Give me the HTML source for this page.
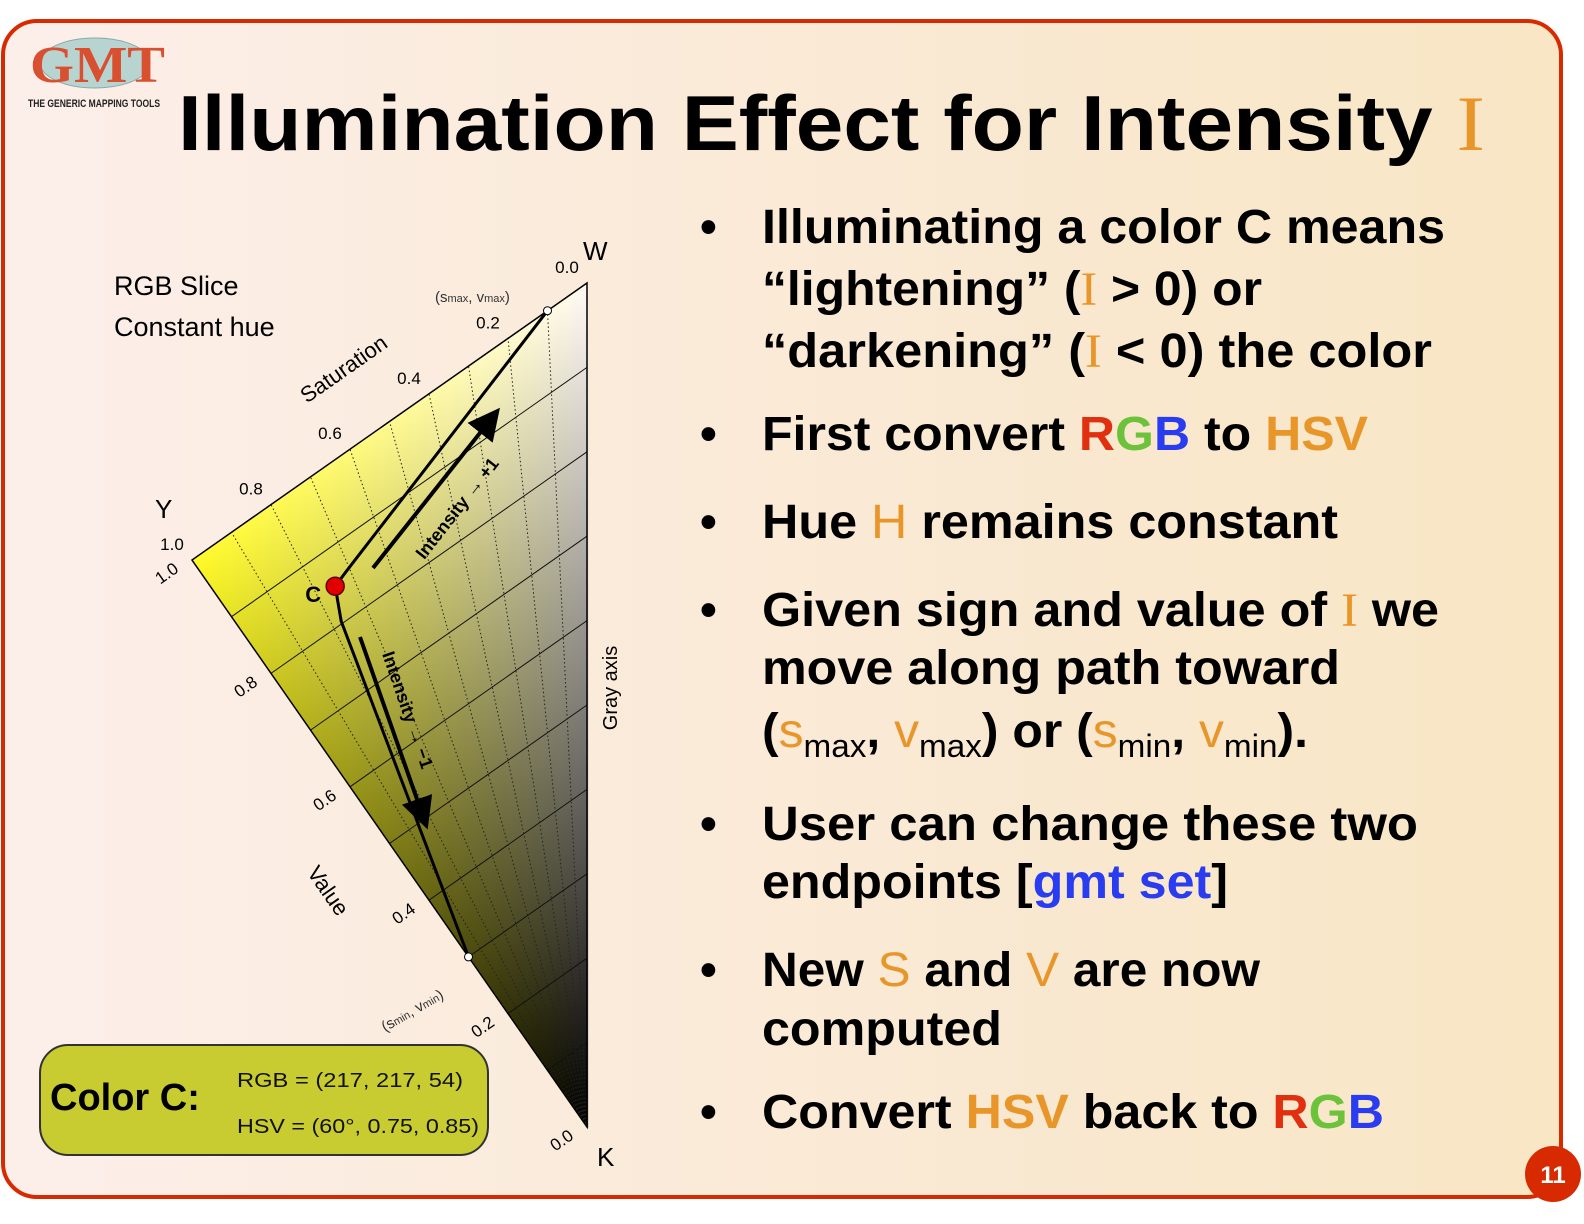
<!DOCTYPE html>
<html><head><meta charset="utf-8">
<style>
html,body{margin:0;padding:0;width:1584px;height:1224px;overflow:hidden;background:#fff;font-family:"Liberation Sans",sans-serif}
#bg{position:absolute;left:0;top:0}
#tri{position:absolute;left:0;top:0}
#ov{position:absolute;left:0;top:0}
.si{font-family:"Liberation Serif",serif;font-weight:normal;fill:#e8962a}
</style></head>
<body>
<svg id="bg" width="1584" height="1224">
<defs><linearGradient id="g" x1="0" y1="0" x2="1" y2="0"><stop offset="0" stop-color="#fcefea"/><stop offset="0.45" stop-color="#faead8"/><stop offset="1" stop-color="#f8e6c4"/></linearGradient></defs>
<rect x="3" y="21" width="1558" height="1176" rx="34" fill="url(#g)" stroke="#d82a00" stroke-width="4"/>
</svg>
<canvas id="tri" width="1584" height="1224"></canvas>
<svg id="ov" width="1584" height="1224" font-family="Liberation Sans, sans-serif">
<g>
<ellipse cx="95" cy="63" rx="55" ry="25" fill="#b8d4d0" stroke="#8aa" stroke-width="1"/>
<text x="30" y="82" font-size="52" font-weight="bold" fill="#d85030" textLength="135" lengthAdjust="spacingAndGlyphs" font-family="Liberation Serif, serif">GMT</text>
<text x="28" y="107" font-size="11" font-weight="bold" fill="#222" textLength="132" lengthAdjust="spacingAndGlyphs">THE GENERIC MAPPING TOOLS</text>
</g>
<text x="178" y="150" font-size="78" font-weight="bold" fill="#000" textLength="1307" lengthAdjust="spacingAndGlyphs">Illumination Effect for Intensity <tspan class="si">I</tspan></text>
<g id="chart"></g>
<g font-size="48" font-weight="bold" fill="#000">
<text x="700" y="243">•</text><text x="762" y="243" textLength="683" lengthAdjust="spacingAndGlyphs">Illuminating a color C means</text>
<text x="762" y="305" textLength="500" lengthAdjust="spacingAndGlyphs">“lightening” (<tspan class="si">I</tspan> &gt; 0) or</text>
<text x="762" y="367" textLength="670" lengthAdjust="spacingAndGlyphs">“darkening” (<tspan class="si">I</tspan> &lt; 0) the color</text>
<text x="700" y="450">•</text><text x="762" y="450" textLength="606" lengthAdjust="spacingAndGlyphs">First convert <tspan fill="#e03010">R</tspan><tspan fill="#6cc23a">G</tspan><tspan fill="#2a3cf0">B</tspan> to <tspan fill="#e8962a">HSV</tspan></text>
<text x="700" y="538">•</text><text x="762" y="538" textLength="576" lengthAdjust="spacingAndGlyphs">Hue <tspan fill="#e8962a" font-weight="normal">H</tspan> remains constant</text>
<text x="700" y="626">•</text><text x="762" y="626" textLength="677" lengthAdjust="spacingAndGlyphs">Given sign and value of <tspan class="si">I</tspan> we</text>
<text x="762" y="684" textLength="578" lengthAdjust="spacingAndGlyphs">move along path toward</text>
<text x="762" y="747" textLength="546" lengthAdjust="spacingAndGlyphs">(<tspan fill="#e8962a" font-weight="normal">s</tspan><tspan font-size="32" font-weight="normal" dy="10">max</tspan><tspan dy="-10">, </tspan><tspan fill="#e8962a" font-weight="normal">v</tspan><tspan font-size="32" font-weight="normal" dy="10">max</tspan><tspan dy="-10">) or (</tspan><tspan fill="#e8962a" font-weight="normal">s</tspan><tspan font-size="32" font-weight="normal" dy="10">min</tspan><tspan dy="-10">, </tspan><tspan fill="#e8962a" font-weight="normal">v</tspan><tspan font-size="32" font-weight="normal" dy="10">min</tspan><tspan dy="-10">).</tspan></text>
<text x="700" y="840">•</text><text x="762" y="840" textLength="656" lengthAdjust="spacingAndGlyphs">User can change these two</text>
<text x="762" y="898" textLength="466" lengthAdjust="spacingAndGlyphs">endpoints [<tspan fill="#2a3cf0">gmt set</tspan>]</text>
<text x="700" y="986">•</text><text x="762" y="986" textLength="498" lengthAdjust="spacingAndGlyphs">New <tspan fill="#e8962a" font-weight="normal">S</tspan> and <tspan fill="#e8962a" font-weight="normal">V</tspan> are now</text>
<text x="762" y="1045" textLength="240" lengthAdjust="spacingAndGlyphs">computed</text>
<text x="700" y="1128">•</text><text x="762" y="1128" textLength="622" lengthAdjust="spacingAndGlyphs">Convert <tspan fill="#e8962a">HSV</tspan> back to <tspan fill="#e03010">R</tspan><tspan fill="#6cc23a">G</tspan><tspan fill="#2a3cf0">B</tspan></text>
</g>
<g>
<rect x="40" y="1045" width="448" height="110" rx="28" fill="#c8cc30" stroke="#333" stroke-width="2"/>
<text x="50" y="1110" font-size="38" font-weight="bold">Color C:</text>
<text x="237" y="1087" font-size="20" fill="#111" textLength="226" lengthAdjust="spacingAndGlyphs">RGB = (217, 217, 54)</text>
<text x="237" y="1133" font-size="20" fill="#111" textLength="242" lengthAdjust="spacingAndGlyphs">HSV = (60°, 0.75, 0.85)</text>
</g>
<g>
<circle cx="1553" cy="1174" r="28" fill="#d82a00"/>
<text x="1553" y="1183" font-size="24" font-weight="bold" fill="#fff" text-anchor="middle">11</text>
</g>
</svg>
<script>
// data
const vertexW=[587,283], vertexY=[192,560], vertexK=[587,1127];
const colorC=[0.75,0.85]; // s,v
const maxPoint=[0.1,1.0]; const minPoint=[1.0,0.3];
const satTicks=[0.0,0.2,0.4,0.6,0.8,1.0];
const valTicks=[1.0,0.8,0.6,0.4,0.2,0.0];
const gridStep=[0.1,0.2,0.3,0.4,0.5,0.6,0.7,0.8,0.9];
function P(s,v){return [vertexK[0]+v*((1-s)*(vertexW[0]-vertexK[0])+s*(vertexY[0]-vertexK[0])),
                        vertexK[1]+v*((1-s)*(vertexW[1]-vertexK[1])+s*(vertexY[1]-vertexK[1]))];}
const cv=document.getElementById('tri'),ctx=cv.getContext('2d');
const img=ctx.createImageData(1584,1224);
const ax=vertexW[0]-vertexK[0],ay=vertexW[1]-vertexK[1],bx=vertexY[0]-vertexW[0],by=vertexY[1]-vertexW[1];
const det=ax*by-ay*bx;
for(let y=280;y<1130;y++)for(let x=188;x<590;x++){
 const dx=x-vertexK[0],dy=y-vertexK[1];
 const a=(dx*by-dy*bx)/det,b=(ax*dy-ay*dx)/det;
 if(a<0||a>1||b<0||b>a)continue;
 const v=a,s=a>0?b/a:0;
 const i=(y*1584+x)*4;
 img.data[i]=Math.round(v*255);img.data[i+1]=Math.round(v*250);img.data[i+2]=Math.round(v*(1-s)*245+v*s*40);img.data[i+3]=255;
}
ctx.putImageData(img,0,0);
const NS='http://www.w3.org/2000/svg',g=document.getElementById('chart');
function mk(t,at,par){const e=document.createElementNS(NS,t);for(const k in at)e.setAttribute(k,at[k]);(par||g).appendChild(e);return e;}
gridStep.forEach(v=>{const a=P(0,v),b=P(1,v);
 const l=mk('line',{x1:a[0],y1:a[1],x2:b[0],y2:b[1],stroke:'#111','stroke-width':1});
 
 });
gridStep.forEach(s=>{const a=P(s,0),b=P(s,1);
 const l=mk('line',{x1:a[0],y1:a[1],x2:b[0],y2:b[1],stroke:'#222','stroke-width':1,'stroke-dasharray':'1.5,2.5'});
 
 });
const t1=P(0,1),t2=P(1,1),t3=P(0,0);
const tr=mk('polygon',{points:[t1,t2,t3].map(p=>p.join(',')).join(' '),fill:'none',stroke:'#000','stroke-width':1.5});


function path(from,to,name,kink){const a=P(from[0],from[1]),b=P(to[0],to[1]);
 let d='M'+a[0]+','+a[1];
 if(kink){d+='L'+(a[0]+kink[0])+','+(a[1]+kink[1]);}
 d+='L'+b[0]+','+b[1];
 const e=mk('path',{d:d,fill:'none',stroke:'#000','stroke-width':3,'stroke-linejoin':'round'});
 
 }
path(colorC,maxPoint,'path-to-max',[12,-16]);path(colorC,minPoint,'path-to-min',[6,35]);
[maxPoint,minPoint].forEach(q=>{const p=P(q[0],q[1]);const c=mk('circle',{cx:p[0],cy:p[1],r:4,fill:'#fff',stroke:'#000'});
 
 });
const pc=P(colorC[0],colorC[1]);
const cc=mk('circle',{cx:pc[0],cy:pc[1],r:9,fill:'#e00000',stroke:'#600','stroke-width':1.5});


const cl=mk('text',{x:pc[0]-30,y:pc[1]+16,'font-size':22,'font-weight':'bold'});cl.textContent='C';


satTicks.forEach(s=>{const p=P(s,1);const e=mk('text',{x:p[0]-20,y:p[1]-10,'font-size':17,'text-anchor':'middle'});e.textContent=s.toFixed(1);
 
 });
valTicks.forEach(v=>{const p=P(1,v);const x=p[0]-22,y=p[1]+18;const e=mk('text',{x:x,y:y,'font-size':17,'text-anchor':'middle',transform:`rotate(-35 ${x} ${y})`});e.textContent=v.toFixed(1);
 
 });
mk('defs',{}).innerHTML='<marker id="ah" markerWidth="8" markerHeight="8" refX="6" refY="4" orient="auto" markerUnits="strokeWidth"><path d="M0,0L8,4L0,8z" fill="#000"/></marker>';
const a1=mk('line',{x1:373,y1:568,x2:495,y2:414,stroke:'#000','stroke-width':4,'marker-end':'url(#ah)'});


const a2=mk('line',{x1:360,y1:637,x2:425,y2:822,stroke:'#000','stroke-width':4,'marker-end':'url(#ah)'});


</script>
<svg style="position:absolute;left:0;top:0" width="1584" height="1224" font-family="Liberation Sans, sans-serif">
<text x="114" y="295" font-size="27">RGB Slice</text>
<text x="114" y="336" font-size="27">Constant hue</text>
<text x="155" y="518" font-size="26">Y</text>
<text x="583" y="260" font-size="26">W</text>
<text x="597" y="1166" font-size="26">K</text>
<text x="348" y="375" font-size="22" text-anchor="middle" transform="rotate(-35 348 375)">Saturation</text>
<text x="322" y="895" font-size="22" text-anchor="middle" transform="rotate(55 322 895)">Value</text>
<text x="617" y="688" font-size="20" text-anchor="middle" transform="rotate(-90 617 688)">Gray axis</text>
<text x="435" y="302" font-size="15" fill="#333">(s<tspan font-size="11">max</tspan>, v<tspan font-size="11">max</tspan>)</text>
<text x="385" y="1032" font-size="15" fill="#333" transform="rotate(-30 385 1032)">(s<tspan font-size="11">min</tspan>, v<tspan font-size="11">min</tspan>)</text>
<text x="462" y="512" font-size="18" font-weight="bold" text-anchor="middle" transform="rotate(-52 462 512)">Intensity → +1</text>
<text x="402" y="712" font-size="18" font-weight="bold" text-anchor="middle" transform="rotate(71 402 712)">Intensity → −1</text>
</svg>
</body></html>
